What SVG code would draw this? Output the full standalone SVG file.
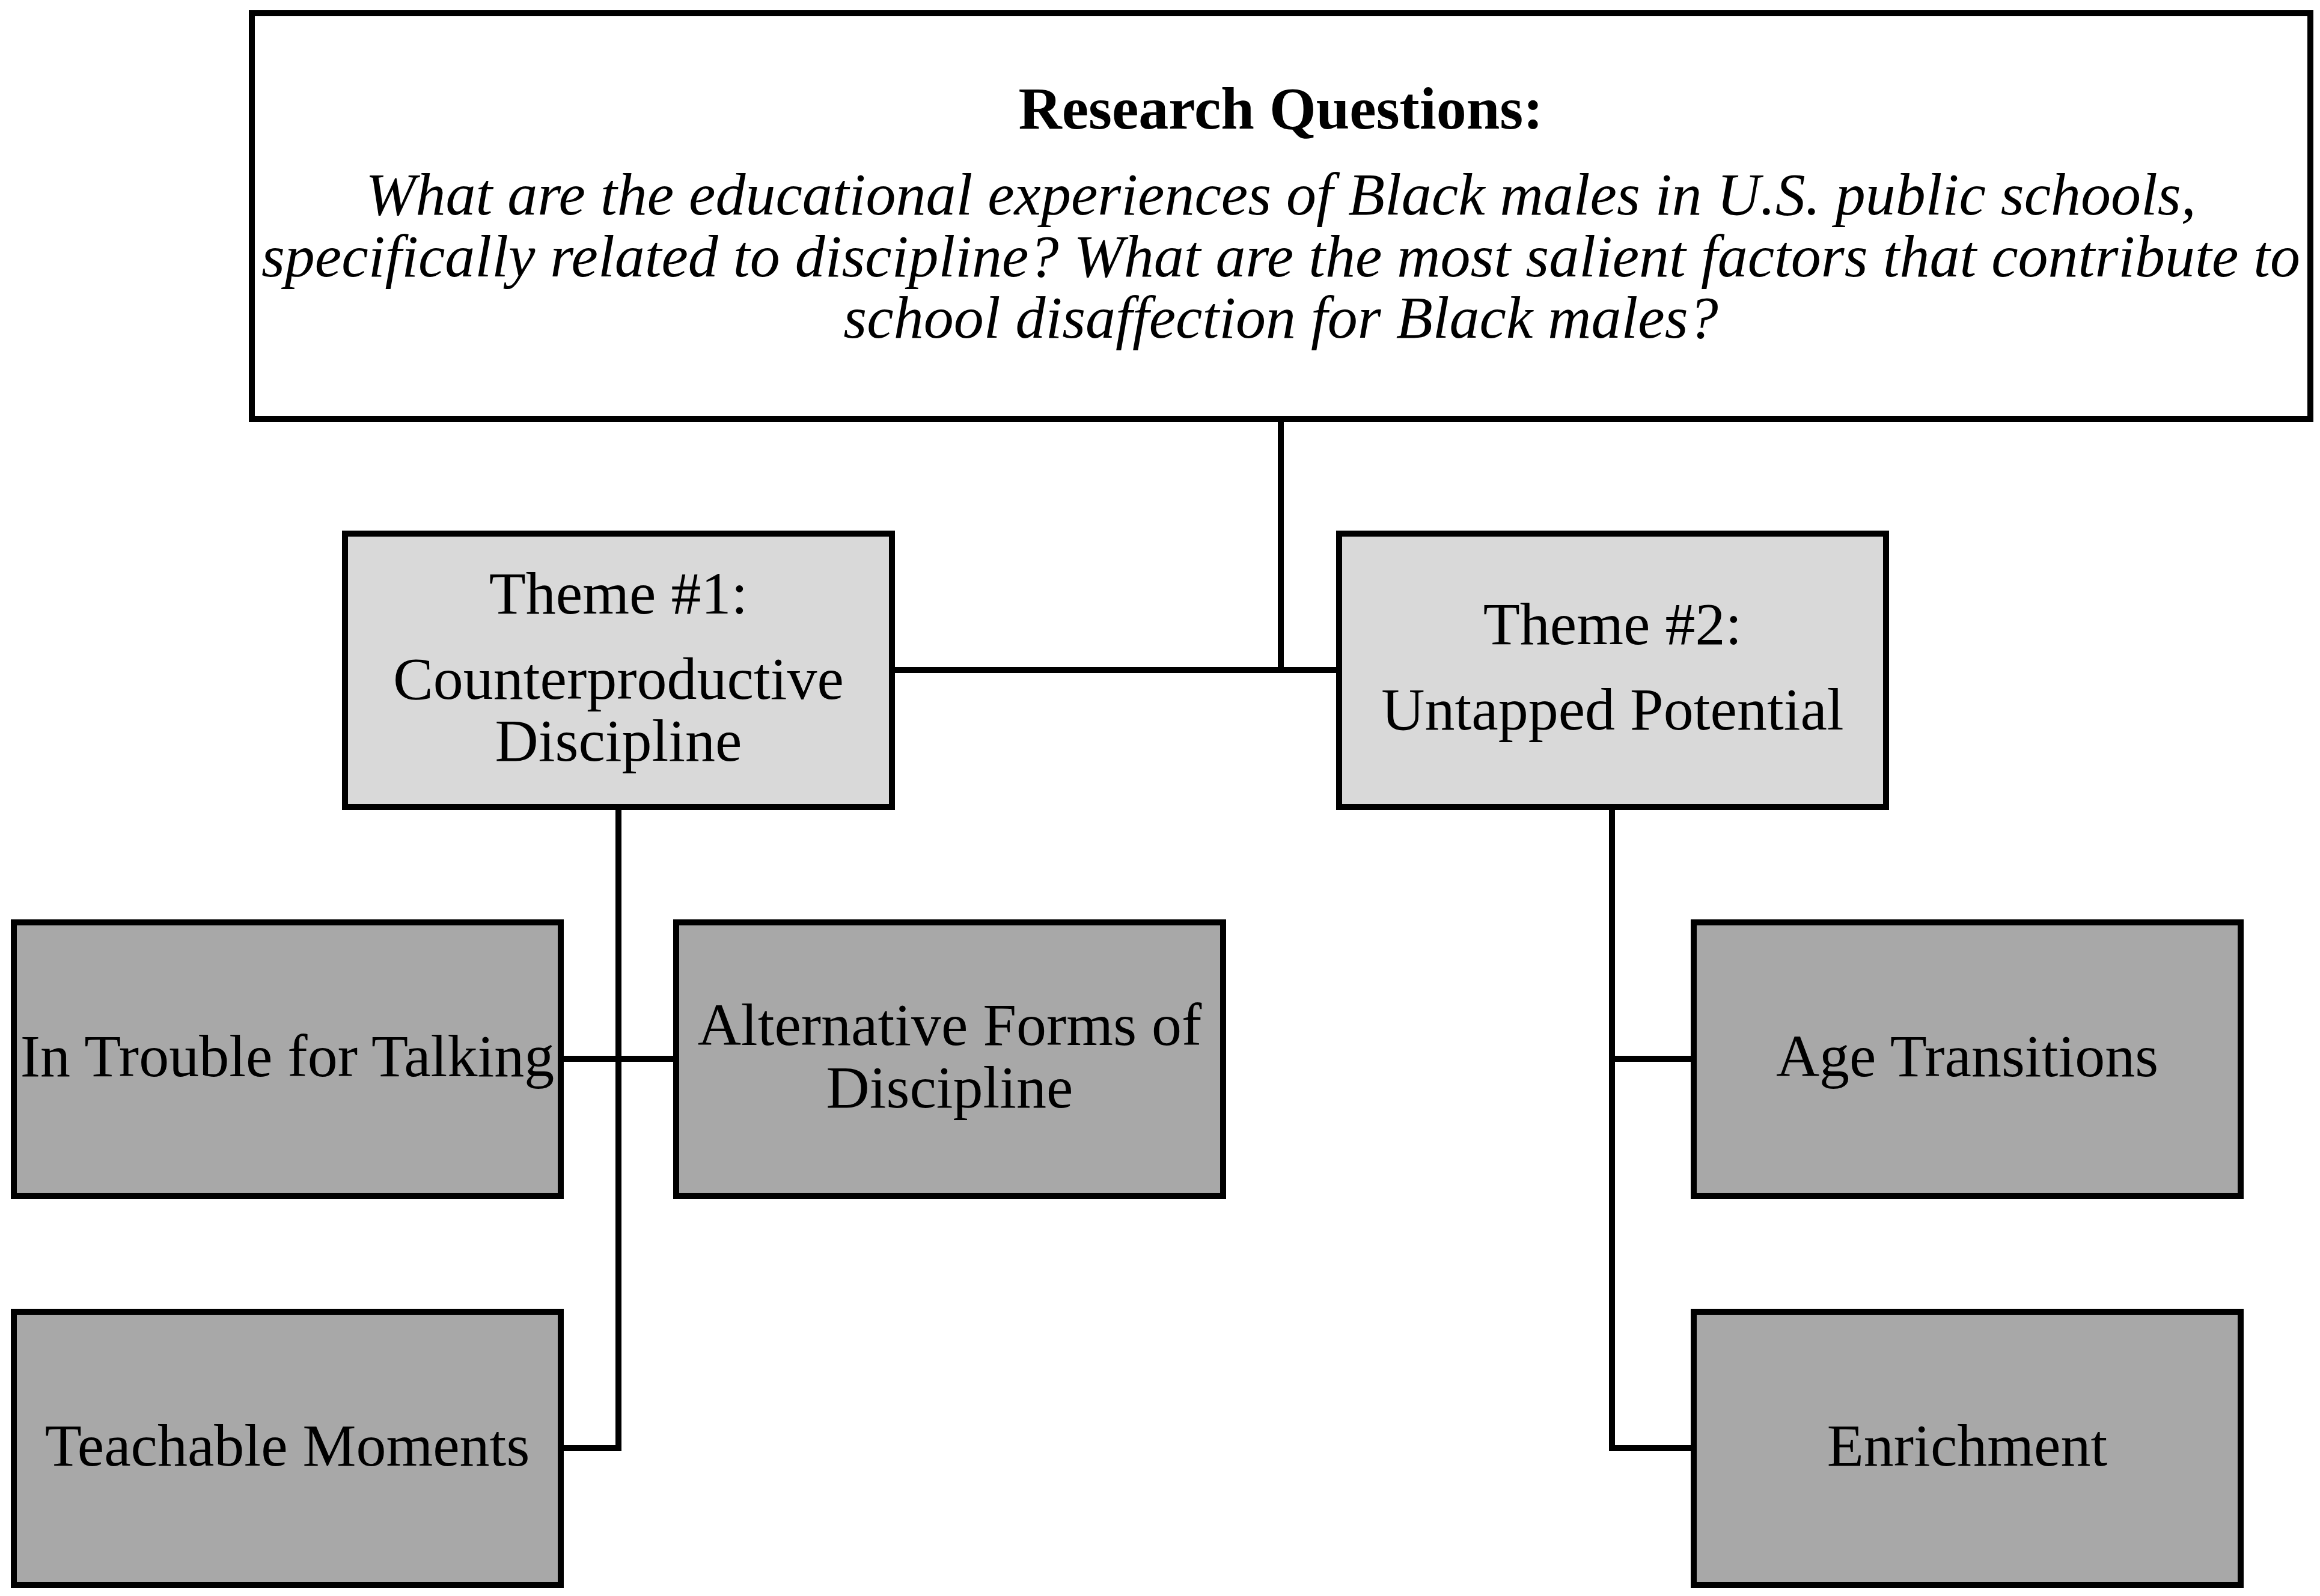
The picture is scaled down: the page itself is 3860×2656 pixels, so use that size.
<svg xmlns="http://www.w3.org/2000/svg" width="3860" height="2656" viewBox="0 0 3860 2656">
<style>
  .box { stroke: #000; stroke-width: 10; }
  .q { fill: #fff; }
  .theme { fill: #d9d9d9; }
  .sub { fill: #a8a8a8; }
  .t { font-family: "Liberation Serif", "Times New Roman", serif; font-size: 100px; fill: #000; text-anchor: middle; }
  .b { font-weight: bold; }
  .i { font-style: italic; }
  .conn { fill: none; stroke: #000; stroke-width: 10; stroke-linejoin: miter; stroke-linecap: butt; }
</style>
<rect x="0" y="0" width="3860" height="2656" fill="#fff"/>
<g id="connectors">
  <line class="conn" x1="2131" y1="697" x2="2131" y2="1115"/>
  <line class="conn" x1="1484" y1="1115" x2="2228" y2="1115"/>
  <polyline class="conn" points="1029,1343 1029,2410 933,2410"/>
  <line class="conn" x1="933" y1="1762" x2="1125" y2="1762"/>
  <polyline class="conn" points="2682,1343 2682,2410 2818,2410"/>
  <line class="conn" x1="2682" y1="1762" x2="2818" y2="1762"/>
</g>
<g id="research-questions">
  <rect class="box q" x="419" y="22" width="3425" height="675"/>
  <text class="t b" x="2131" y="214">Research Questions:</text>
  <text class="t i" x="2131" y="357">What are the educational experiences of Black males in U.S. public schools,</text>
  <text class="t i" x="2131" y="460">specifically related to discipline? What are the most salient factors that contribute to</text>
  <text class="t i" x="2131" y="562">school disaffection for Black males?</text>
</g>
<g id="theme1">
  <rect class="box theme" x="574" y="888" width="910" height="455"/>
  <text class="t" x="1029" y="1021">Theme #1:</text>
  <text class="t" x="1029" y="1163">Counterproductive</text>
  <text class="t" x="1029" y="1266">Discipline</text>
</g>
<g id="theme2">
  <rect class="box theme" x="2228" y="888" width="910" height="455"/>
  <text class="t" x="2683" y="1072">Theme #2:</text>
  <text class="t" x="2683" y="1214">Untapped Potential</text>
</g>
<g id="in-trouble">
  <rect class="box sub" x="23" y="1535" width="910" height="455"/>
  <text class="t" x="478" y="1791">In Trouble for Talking</text>
</g>
<g id="alternative">
  <rect class="box sub" x="1125" y="1535" width="910" height="455"/>
  <text class="t" x="1580" y="1739">Alternative Forms of</text>
  <text class="t" x="1580" y="1843">Discipline</text>
</g>
<g id="teachable">
  <rect class="box sub" x="23" y="2183" width="910" height="455"/>
  <text class="t" x="478" y="2439">Teachable Moments</text>
</g>
<g id="age">
  <rect class="box sub" x="2818" y="1535" width="910" height="455"/>
  <text class="t" x="3273" y="1791">Age Transitions</text>
</g>
<g id="enrichment">
  <rect class="box sub" x="2818" y="2183" width="910" height="455"/>
  <text class="t" x="3273" y="2439">Enrichment</text>
</g>
</svg>
